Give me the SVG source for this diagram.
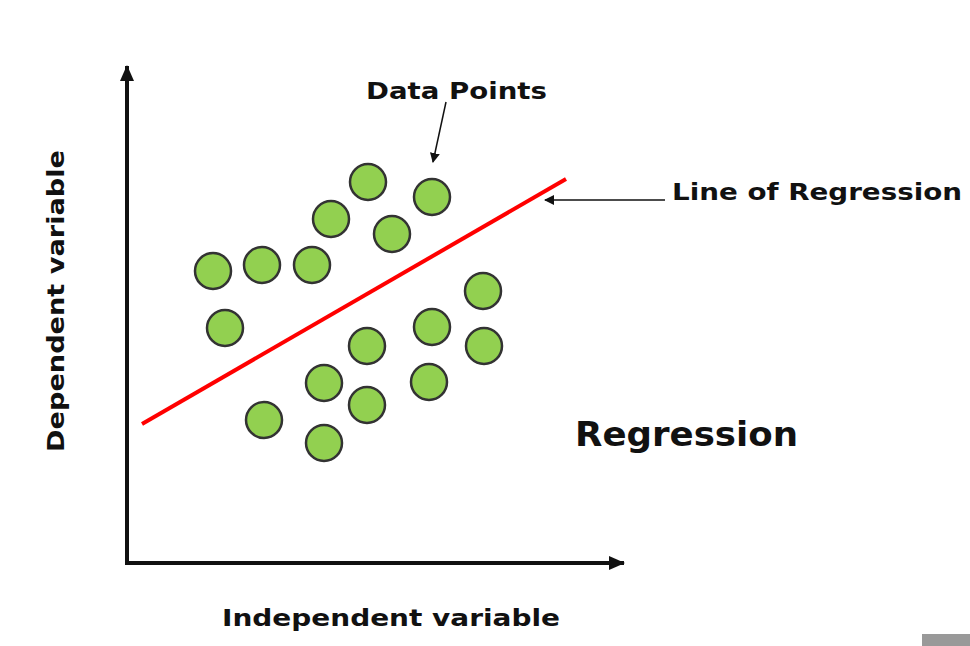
<svg xmlns="http://www.w3.org/2000/svg" width="970" height="646" viewBox="0 0 970 646">
<style>
.p{fill:#92D050;stroke:#333;stroke-width:2.5}
.t{font-family:"DejaVu Sans",sans-serif;font-weight:bold;fill:#111}
</style>
<defs>
<marker id="a" markerWidth="10" markerHeight="10" refX="9" refY="5" orient="auto" markerUnits="userSpaceOnUse"><path d="M0,0L10,5L0,10z" fill="#111"/></marker>
<marker id="b" markerWidth="16" markerHeight="14" refX="15" refY="7" orient="auto" markerUnits="userSpaceOnUse"><path d="M0,0L16,7L0,14z" fill="#111"/></marker>
</defs>
<rect width="970" height="646" fill="#fff"/>
<g id="connectors">
<path d="M127,563V66" stroke="#111" stroke-width="4" fill="none" marker-end="url(#b)"/>
<path d="M125,563H624" stroke="#111" stroke-width="4" fill="none" marker-end="url(#b)"/>
<path d="M142,424L566,179" stroke="#f00" stroke-width="4"/>
<path d="M665,200H545" stroke="#111" stroke-width="1.5" marker-end="url(#a)"/>
<path d="M446,102L433,162" stroke="#111" stroke-width="1.5" marker-end="url(#a)"/>
</g>
<g id="points">
<circle class="p" cx="213" cy="271" r="18"/><circle class="p" cx="262" cy="265" r="18"/><circle class="p" cx="312" cy="265" r="18"/>
<circle class="p" cx="331" cy="219" r="18"/><circle class="p" cx="368" cy="182" r="18"/><circle class="p" cx="392" cy="234" r="18"/>
<circle class="p" cx="432" cy="197" r="18"/><circle class="p" cx="483" cy="291" r="18"/><circle class="p" cx="225" cy="328" r="18"/>
<circle class="p" cx="432" cy="327" r="18"/><circle class="p" cx="367" cy="346" r="18"/><circle class="p" cx="484" cy="346" r="18"/>
<circle class="p" cx="324" cy="383" r="18"/><circle class="p" cx="429" cy="382" r="18"/><circle class="p" cx="367" cy="405" r="18"/>
<circle class="p" cx="264" cy="420" r="18"/><circle class="p" cx="324" cy="443" r="18"/>
</g>
<g id="labels">
<text class="t" x="366" y="99" font-size="23" textLength="181" lengthAdjust="spacingAndGlyphs">Data Points</text>
<text class="t" x="672" y="200" font-size="23" textLength="290" lengthAdjust="spacingAndGlyphs">Line of Regression</text>
<text class="t" x="575" y="446" font-size="33" textLength="223" lengthAdjust="spacingAndGlyphs">Regression</text>
<text class="t" x="222" y="626" font-size="23" textLength="338" lengthAdjust="spacingAndGlyphs">Independent variable</text>
<text class="t" x="64" y="452" font-size="23" textLength="302" lengthAdjust="spacingAndGlyphs" transform="rotate(-90 64 452)">Dependent variable</text>
</g>
<rect x="922" y="634" width="48" height="12" fill="#999"/>
</svg>
